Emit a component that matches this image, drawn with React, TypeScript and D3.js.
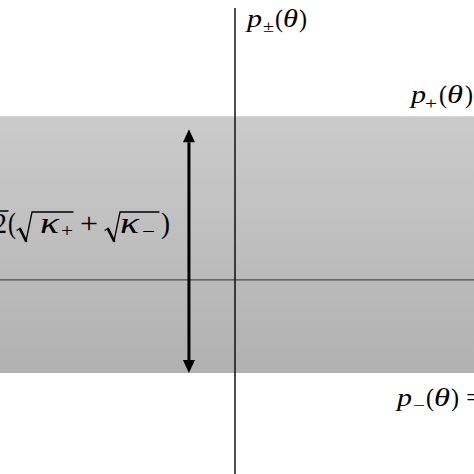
import React from "react";
import * as d3 from "d3";

// Levels of the two curves p+(θ) and p−(θ) (arbitrary units) and the θ of the arrow
const levelNames = ["p_plus", "zero", "p_minus"];
const levelValues = [1.76, 0, -1.0];
const arrowTheta = [-0.196];
const axisTheta = [0];

const W = 474;
const H = 474;

const x = d3.scaleLinear().domain([-1, 1.017]).range([0, W]);
const y = d3.scaleLinear().domain([-2.086, 3.01]).range([H, 0]);

const serif = "'Liberation Serif', 'DejaVu Serif', serif";

type Piece = { t: string; x: number; w?: number; dy?: number; size?: number; it?: boolean };

function Formula({ pieces, baseline, size }: { pieces: Piece[]; baseline: number; size: number }) {
  return (
    <g fontFamily={serif} fill="#000">
      {pieces.map((p, i) => (
        <text
          key={i}
          x={p.x}
          y={baseline + (p.dy || 0)}
          fontSize={p.size || size}
          fontStyle={p.it ? "italic" : "normal"}
          textLength={p.w}
          lengthAdjust={p.w ? "spacingAndGlyphs" : undefined}
        >
          {p.t}
        </text>
      ))}
    </g>
  );
}

const pPM: Piece[] = [
  { t: "p", x: 247, w: 15, it: true },
  { t: "±", x: 263, w: 11, dy: 5, size: 17 },
  { t: "(", x: 275, w: 8 },
  { t: "θ", x: 283, w: 15, it: true },
  { t: ")", x: 299, w: 8 },
];
const pP: Piece[] = [
  { t: "p", x: 411, w: 15, it: true },
  { t: "+", x: 425, w: 12, dy: 6, size: 17 },
  { t: "(", x: 439, w: 8 },
  { t: "θ", x: 447, w: 16, it: true },
  { t: ")", x: 465, w: 8 },
];
const pM: Piece[] = [
  { t: "p", x: 397, w: 15, it: true },
  { t: "−", x: 413, w: 12, dy: 5, size: 17 },
  { t: "(", x: 426, w: 8 },
  { t: "θ", x: 434, w: 16, it: true },
  { t: ")", x: 451, w: 8 },
  { t: "=", x: 466, w: 16 },
];
const kLabel: Piece[] = [
  { t: "2", x: -7, w: 14 },
  { t: "(", x: 8, w: 8 },
  { t: "κ", x: 40, w: 19, it: true },
  { t: "+", x: 61, w: 12, dy: 4, size: 19 },
  { t: "+", x: 80, w: 18 },
  { t: "κ", x: 120, w: 19, it: true },
  { t: "−", x: 142, w: 13, dy: 5, size: 19 },
  { t: ")", x: 161, w: 9 },
];

function Radical({ x0, x1, top, bottom }: { x0: number; x1: number; top: number; bottom: number }) {
  const mid = bottom - (bottom - top) * 0.42;
  return (
    <g stroke="#000" fill="none" strokeLinecap="round" strokeLinejoin="round">
      <path d={`M${x0},${mid + 1.5} L${x0 + 3},${mid}`} strokeWidth={1.2} />
      <path d={`M${x0 + 3},${mid} L${x0 + 9},${bottom}`} strokeWidth={2.6} />
      <path d={`M${x0 + 9},${bottom} L${x0 + 15},${top} H${x1}`} strokeWidth={1.3} />
    </g>
  );
}

export default function App() {
  const pPlus = levelValues[0];
  const pZero = levelValues[1];
  const pMinus = levelValues[2];
  const ax = x(arrowTheta[0]);
  const vx = x(axisTheta[0]);
  const top = y(pPlus);
  const bot = y(pMinus);
  const head = 13;
  return (
    <svg width={W} height={H} style={{ position: "absolute", left: 0, top: 0, background: "#fff" }}>
      <defs>
        <linearGradient id="band" x1="0" y1="0" x2="0" y2="1">
          <stop offset="0" stopColor="#cbcbcb" />
          <stop offset="1" stopColor="#b1b1b1" />
        </linearGradient>
      </defs>
      <rect x={0} y={top} width={W} height={bot - top} fill="url(#band)" />
      {/* horizontal θ axis */}
      <line x1={0} x2={W} y1={y(pZero)} y2={y(pZero)} stroke="#4a4a4a" strokeWidth={1.3} />
      {/* vertical axis */}
      <line x1={vx} x2={vx} y1={8} y2={H} stroke="#111" strokeWidth={1.5} />
      {/* double arrow */}
      <line x1={ax} x2={ax} y1={top + 13 + head} y2={bot - head} stroke="#000" strokeWidth={3} />
      <path d={`M${ax},${top + 13} L${ax - 6},${top + 13 + head} L${ax + 6},${top + 13 + head} Z`} fill="#000" />
      <path d={`M${ax},${bot} L${ax - 6},${bot - head} L${ax + 6},${bot - head} Z`} fill="#000" />

      <Formula pieces={pPM} baseline={27} size={26} />
      <Formula pieces={pP} baseline={103} size={26} />
      <Formula pieces={pM} baseline={406} size={26} />

      {/* √2(√κ+ + √κ−) */}
      <Radical x0={-24} x1={8} top={211} bottom={241} />
      <Radical x0={17} x1={73} top={212} bottom={241} />
      <Radical x0={105} x1={159} top={212} bottom={241} />
      <Formula pieces={kLabel} baseline={233} size={30} />
    </svg>
  );
}
